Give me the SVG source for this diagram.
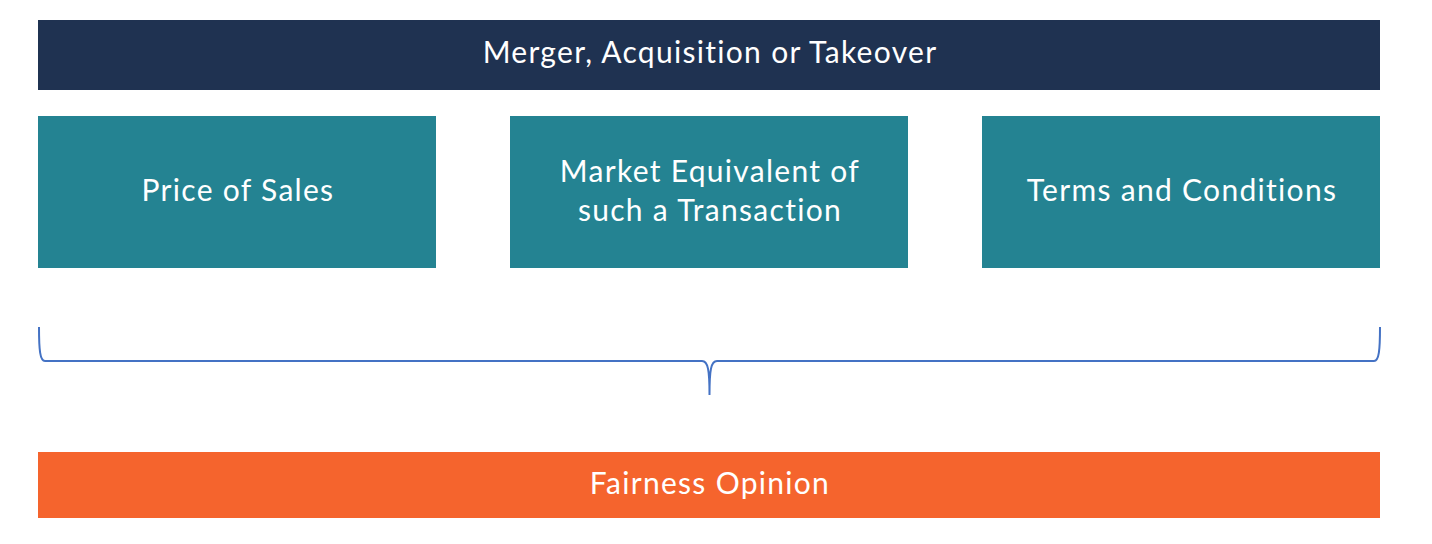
<svg xmlns="http://www.w3.org/2000/svg" width="1432" height="544" viewBox="0 0 1432 544">
<style>
.t{font-family:"Lato","Liberation Sans",sans-serif;font-size:30px;letter-spacing:1.3px;fill:#ffffff;text-anchor:middle}
.teal{fill:#248392}
</style>
<rect width="1432" height="544" fill="#ffffff"/>
<g id="top"><rect x="38" y="20" width="1342" height="70" fill="#1F3251"/><text class="t" x="710" y="63">Merger, Acquisition or Takeover</text></g>
<g id="price"><rect class="teal" x="38" y="116" width="398" height="152"/><text class="t" x="238" y="201">Price of Sales</text></g>
<g id="market"><rect class="teal" x="510" y="116" width="398" height="152"/><text class="t" x="710" y="182">Market Equivalent of</text><text class="t" x="710" y="221">such a Transaction</text></g>
<g id="terms"><rect class="teal" x="982" y="116" width="398" height="152"/><text class="t" x="1182" y="201">Terms and Conditions</text></g>
<g id="connectors"><path d="M39,327 C39,350 40,361 45,361 L702,361 C708,361 709.5,370 709.5,395 C709.5,370 711,361 717,361 L1374,361 C1379,361 1380,350 1380,327" fill="none" stroke="#4472C4" stroke-width="2"/></g>
<g id="fairness"><rect x="38" y="452" width="1342" height="66" fill="#F5642D"/><text class="t" x="710" y="494">Fairness Opinion</text></g>
</svg>
